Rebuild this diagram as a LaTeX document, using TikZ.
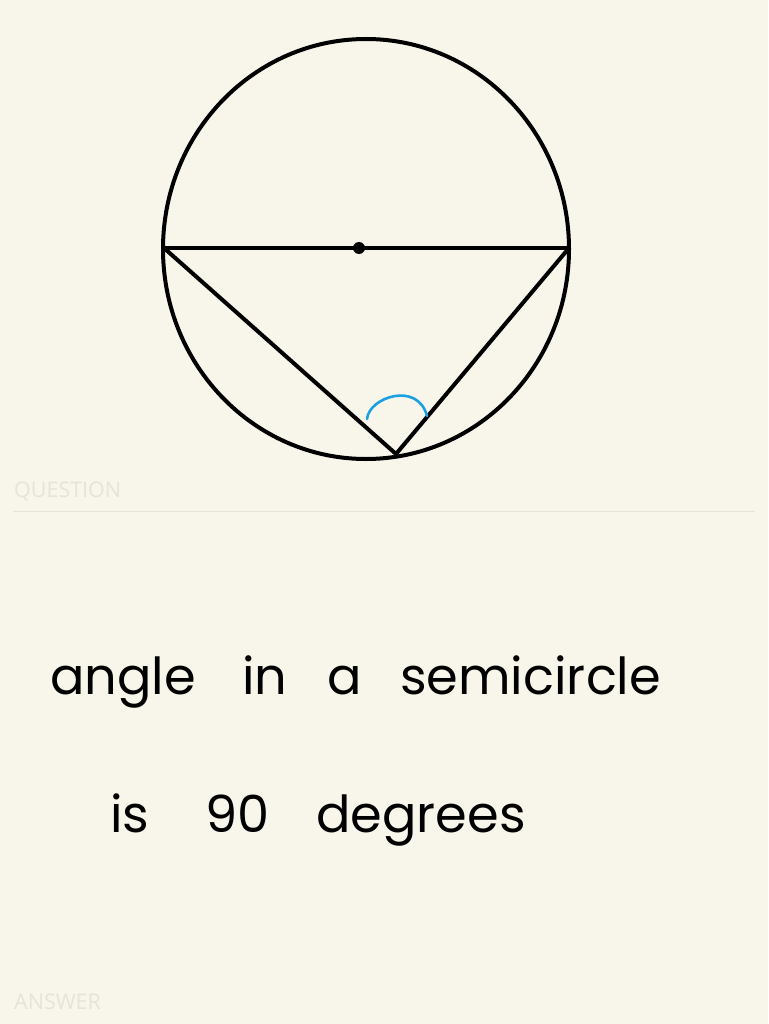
\documentclass[tikz,border=0pt]{standalone}
\usepackage{fontspec}
\setmainfont{Poppins}
\newfontfamily\labelfont{Open Sans}
\definecolor{paper}{HTML}{F8F6EA}
\definecolor{faint}{HTML}{E6E4D7}
\definecolor{arcblue}{HTML}{1BA1E2}
\begin{document}
\begin{tikzpicture}[x=1pt,y=-1pt,
  ink/.style={line width=4pt,line cap=round,line join=round},
  hand/.style={anchor=base west,inner sep=0pt,font=\fontsize{51}{55}\selectfont},
  tag/.style={anchor=base west,inner sep=0pt,text=faint,font=\labelfont\fontsize{21.5}{24}\selectfont}]
\fill[paper] (0,0) rectangle (768,1024);
\useasboundingbox (0,0) rectangle (768,1024);
\coordinate (O) at (366,249);
\coordinate (A) at (164,248);
\coordinate (B) at (569,248);
\coordinate (C) at (396,454);
\coordinate (M) at (359,248);
\draw[ink] (O) ellipse [x radius=203, y radius=210];
\draw[ink] (A) -- (B);
\draw[ink] (A) -- (C) -- (B);
\fill (M) circle (6);
\coordinate (P) at (367,419);
\coordinate (Q) at (427,416);
\draw[arcblue,line width=2.6pt,line cap=round] (P) .. controls (369,397) and (418,381) .. (Q);
\node[tag] (q) at (14,497) {QUESTION};
\draw[faint,line width=1pt] (13,511) -- (755,511);
\node[tag] (a) at (14,1009) {ANSWER};
\node[hand] (t1) at (50,694) {\makebox[192pt][l]{angle}\makebox[85pt][l]{in}\makebox[73pt][l]{a}semicircle};
\node[hand] (t2) at (110,832) {\makebox[95pt][l]{is}\makebox[111pt][l]{90}degrees};
\end{tikzpicture}
\end{document}
